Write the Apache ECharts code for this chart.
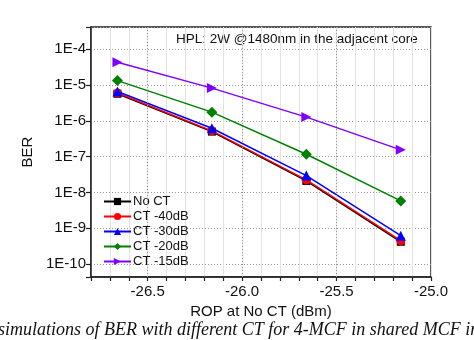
<!DOCTYPE html>
<html>
<head>
<meta charset="utf-8">
<script src="https://cdn.jsdelivr.net/npm/echarts@6/dist/echarts.min.js"></script>
<style>
  html, body { margin: 0; padding: 0; background: #fff; }
  #chart { width: 474px; height: 340px; }
</style>
</head>
<body>
<div id="chart"></div>
<script>
// Received optical power at No CT (dBm)
const rop = [-26.66, -26.16, -25.66, -25.16];

// Bit error rate for each crosstalk level
const berNoCT  = [5.7e-6, 5.0e-7, 2.1e-8, 4.2e-10];
const berCT40  = [6.0e-6, 5.25e-7, 2.24e-8, 4.5e-10];
const berCT30  = [6.6e-6, 6.2e-7, 2.96e-8, 6.2e-10];
const berCT20  = [1.33e-5, 1.75e-6, 1.17e-7, 5.8e-9];
const berCT15  = [4.34e-5, 8.2e-6, 1.27e-6, 1.55e-7];

const seriesNames = ['No CT', 'CT -40dB', 'CT -30dB', 'CT -20dB', 'CT -15dB'];
const xTickLabels = ['-26.5', '-26.0', '-25.5', '-25.0'];
const yTickLabels = ['1E-10', '1E-9', '1E-8', '1E-7', '1E-6', '1E-5', '1E-4'];

const note = 'HPL: 2W @1480nm in the adjacent core';
const caption = 'simulations of BER with different CT for 4-MCF in shared MCF in';

const pair = (ys) => rop.map((x, i) => [x, ys[i]]);

const styles = [
  { color: '#000000', symbol: 'rect', size: 8, rotate: 0 },
  { color: '#ff0000', symbol: 'circle', size: 9, rotate: 0 },
  { color: '#0000ff', symbol: 'triangle', size: 10, rotate: 0 },
  { color: '#008000', symbol: 'diamond', size: 11, rotate: 0 },
  { color: '#8000ff', symbol: 'triangle', size: 10, rotate: -90 }
];
const allData = [berNoCT, berCT40, berCT30, berCT20, berCT15];

const chart = echarts.init(document.getElementById('chart'), null, { renderer: 'canvas' });

const font = 'Liberation Sans, Arial, sans-serif';

// major vertical grid lines at the labelled ROP values
const majorGrid = {
  name: 'grid',
  type: 'line',
  data: [],
  silent: true,
  markLine: {
    silent: true,
    symbol: 'none',
    label: { show: false },
    lineStyle: { color: '#999', type: [1, 2], width: 1 },
    data: xTickLabels.slice(0, 3).map((s) => ({ xAxis: parseFloat(s) }))
  },
  z: 1
};

chart.setOption({
  animation: false,
  backgroundColor: '#ffffff',
  grid: {
    left: 91, right: 43, top: 27, bottom: 63,
    show: true, borderColor: '#222', borderWidth: 1.5
  },
  xAxis: {
    type: 'value',
    min: -26.8, max: -25.0, interval: 0.1,
    axisLine: { show: true, onZero: false, lineStyle: { color: '#222', width: 1.5 } },
    axisTick: { show: true, inside: false, length: 4, lineStyle: { color: '#222', width: 1.2 } },
    splitLine: { show: true, lineStyle: { color: '#e3e3e3', width: 1 } },
    axisLabel: {
      color: '#111', fontFamily: font, fontSize: 15, margin: 7,
      formatter: (v) => {
        const s = v.toFixed(1);
        return xTickLabels.includes(s) ? s : '';
      }
    },
    name: 'ROP at No CT (dBm)',
    nameLocation: 'middle', nameGap: 27,
    nameTextStyle: { color: '#111', fontFamily: font, fontSize: 15 }
  },
  yAxis: {
    type: 'log', logBase: 10,
    min: Math.pow(10, -10.36), max: Math.pow(10, -3.38),
    axisLine: { show: true, lineStyle: { color: '#222', width: 1.5 } },
    axisTick: { show: true, inside: false, length: 5, lineStyle: { color: '#222', width: 1.2 } },
    splitLine: { show: true, lineStyle: { color: '#999', type: [1, 2], width: 1 } },
    axisLabel: {
      color: '#111', fontFamily: font, fontSize: 15, margin: 5,
      formatter: (v) => {
        const e = Math.round(Math.log10(v));
        if (Math.abs(Math.log10(v) - e) > 1e-6) return '';
        const s = '1E' + e;
        return yTickLabels.includes(s) ? s : '';
      }
    },
    name: 'BER',
    nameLocation: 'middle', nameGap: 50, nameRotate: 90,
    nameTextStyle: { color: '#111', fontFamily: font, fontSize: 15 }
  },
  legend: {
    orient: 'vertical',
    left: 103, top: 195,
    padding: 0,
    itemWidth: 27, itemHeight: 9, itemGap: 2,
    data: seriesNames,
    textStyle: { color: '#111', fontFamily: font, fontSize: 13, padding: [0, 0, 0, -3] }
  },
  graphic: [
    {
      type: 'text', left: 176, top: 32,
      style: { text: note, fill: '#111', font: '13.5px ' + font }
    },
    {
      type: 'text', left: -2, top: 321,
      style: { text: caption, fill: '#111', font: 'italic 18px Liberation Serif, Times New Roman, serif' }
    }
  ],
  series: [majorGrid].concat(allData.map((ys, i) => ({
    name: seriesNames[i],
    type: 'line',
    data: pair(ys),
    symbol: styles[i].symbol,
    symbolSize: styles[i].size,
    symbolRotate: styles[i].rotate,
    showAllSymbol: true,
    lineStyle: { color: styles[i].color, width: 1.5 },
    itemStyle: { color: styles[i].color },
    z: 2 + i
  })))
});
</script>
</body>
</html>
